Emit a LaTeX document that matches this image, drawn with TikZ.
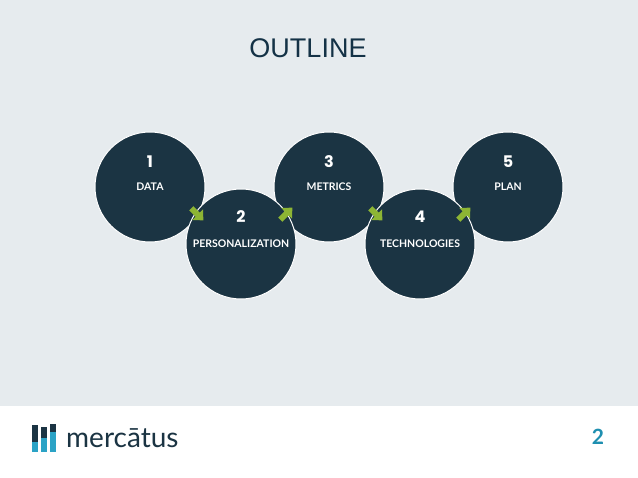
\documentclass[tikz,border=0pt]{standalone}
\usepackage{fontspec}
\setmainfont{Lato}
\newfontfamily\arialf{Liberation Sans}
\newfontfamily\numf{Poppins}
\definecolor{bgc}{HTML}{E6EBEE}
\definecolor{navy}{HTML}{1B3443}
\definecolor{grn}{HTML}{8DB534}
\definecolor{teal}{HTML}{1E8FB0}
\definecolor{logod}{HTML}{1B3443}
\definecolor{logol}{HTML}{2BA3C6}
\begin{document}
\begin{tikzpicture}[x=1pt,y=-1pt,
  stage/.style={circle,fill=navy,draw=white,line width=1pt,minimum size=110pt,inner sep=0pt},
  num/.style={text=white,font=\numf\bfseries\fontsize{16}{16}\selectfont},
  lbl/.style={text=white,font=\bfseries\fontsize{10.5}{11}\selectfont},
  arr/.style={fill=grn}]
\useasboundingbox (0,0) rectangle (638,478);
\fill[bgc] (0,0) rectangle (638,406);
\fill[white] (0,406) rectangle (638,478);
\node[text={rgb,255:red,20;green,50;blue,70},font=\arialf\fontsize{27}{27}\selectfont] (title) at (308,48) {OUTLINE};
\node[stage] (c1) at (150,187) {};
\node[stage] (c3) at (329,187) {};
\node[stage] (c5) at (508,187) {};
\node[stage] (c2) at (241,244) {};
\node[stage] (c4) at (420,244) {};
\node[num] (n1) at (150,162) {1}; \node[lbl] (l1) at (150,187) {DATA};
\node[num] (n3) at (329,162) {3}; \node[lbl] (l3) at (329,187) {METRICS};
\node[num] (n5) at (508,162) {5}; \node[lbl] (l5) at (508,187) {PLAN};
\node[num] (n2) at (241,217) {2}; \node[lbl] (l2) at (241,244) {PERSONALIZATION};
\node[num] (n4) at (420,217) {4}; \node[lbl] (l4) at (420,244) {TECHNOLOGIES};
\foreach \px/\ang in {197/-45,286/45,376/-45,464/45}{
  \fill[arr,shift={(\px,214)},rotate=\ang] (-8,-3)--(1,-3)--(1,-7.5)--(9,0)--(1,7.5)--(1,3)--(-8,3)--cycle;
}
% logo
\fill[logod] (32,425) rectangle (38,442);
\fill[logol] (32,442) rectangle (38,452);
\fill[logod] (41,427) rectangle (47,438);
\fill[logol] (41,438) rectangle (47,452);
\fill[logod] (50,424) rectangle (56,432);
\fill[logol] (50,432) rectangle (56,452);
\node[anchor=west,text=logod,font=\fontsize{28}{28}\selectfont,inner sep=0pt] (brand) at (66,438) {mercātus};
\node[text=teal,font=\bfseries\fontsize{21}{21}\selectfont] (pg) at (598,437) {2};
\end{tikzpicture}
\end{document}
